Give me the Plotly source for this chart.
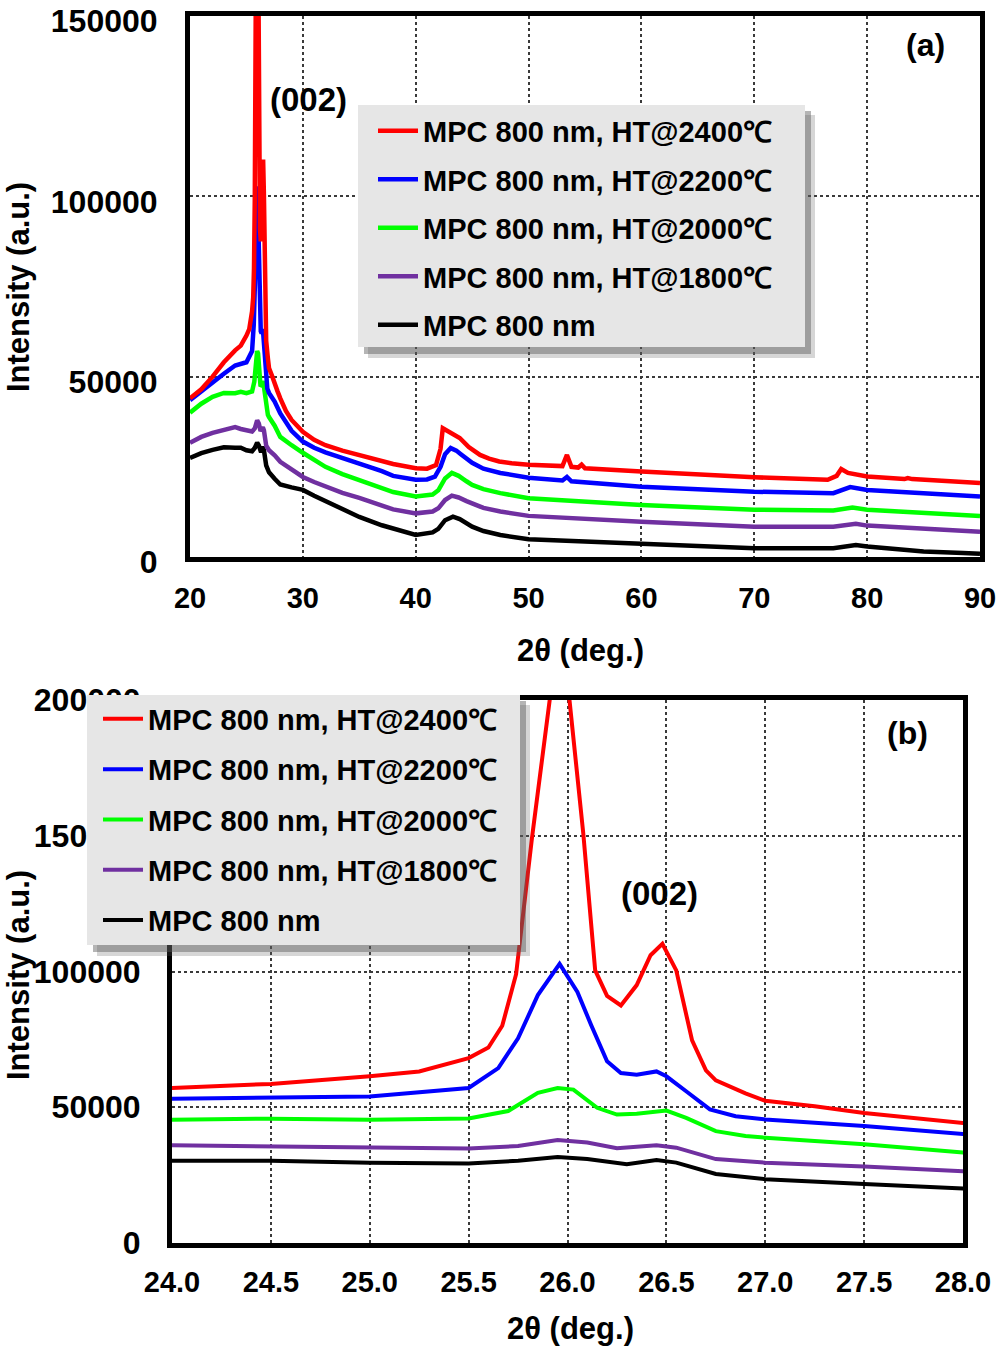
import plotly.graph_objects as go

# ---------------- data ----------------
x_red = [20, 21, 22, 23, 24.0, 24.5, 25.0, 25.25, 25.5, 25.6, 25.67, 25.74, 25.82, 25.91, 25.96,
         26.01, 26.08, 26.14, 26.2, 26.27, 26.35, 26.42, 26.48, 26.55, 26.63, 26.7, 26.75, 26.9,
         27.0, 27.25, 27.5, 27.75, 28.0, 28.5, 29, 29.5, 30, 31, 32, 33.5, 35, 38, 40, 41, 41.8,
         42.2, 42.4, 42.8, 43.3, 43.9, 44.7, 45.7, 46.5, 47.4, 48.5, 50, 53.0, 53.4, 53.8, 54.4,
         54.7, 55.0, 60, 70, 76.5, 77.3, 77.7, 78.3, 80, 83.3, 83.6, 84, 90]
y_red = [44000, 46500, 50000, 54000, 57300, 58600, 61400, 63200, 68100, 72000, 80000, 99000,
         149000, 200000, 250000, 200000, 150700, 100400, 91000, 87500, 95000, 106000, 110200,
         100400, 74600, 63600, 59900, 55100, 52400, 50400, 47900, 46000, 44000, 40500, 38000,
         36200, 34700, 32500, 31000, 29500, 28300, 25800, 24600, 24500, 25500, 30000, 35700,
         35000, 34200, 33000, 30500, 28300, 27300, 26500, 26000, 25600, 25200, 28300, 25000,
         24800, 25600, 24600, 23700, 22100, 21400, 22500, 24400, 23300, 22300, 21600, 21900,
         21600, 20500]

x_blue = [20, 21, 22, 23, 24.0, 24.5, 25.0, 25.5, 25.65, 25.75, 25.85, 25.96, 26.05, 26.12, 26.2,
          26.27, 26.35, 26.45, 26.5, 26.6, 26.72, 26.85, 27.0, 27.5, 28.0, 28.5, 29, 30, 31, 32,
          33.5, 35, 37, 38, 40, 41, 41.7, 42.2, 42.6, 43.1, 43.6, 44, 45, 46, 47.5, 50, 53.0,
          53.4, 53.8, 60, 70, 77, 78.5, 80, 90]
y_blue = [43500, 46000, 48600, 50800, 53100, 53400, 54000, 57100, 64400, 75400, 91300, 102800,
          92500, 80200, 66900, 62600, 62000, 63200, 61400, 55900, 49200, 46700, 45500, 43100,
          39800, 37200, 35000, 32000, 30300, 29000, 27500, 26100, 23800, 22500, 21400, 21500,
          22300, 25000, 28500, 30200, 29500, 28500, 26100, 24500, 23300, 22000, 21200, 22200,
          21000, 19500, 18100, 17700, 19400, 18600, 16800]

x_green = [20, 21, 22, 23, 24.0, 24.5, 25.0, 25.5, 25.7, 25.85, 25.95, 26.03, 26.15, 26.25, 26.35,
           26.5, 26.6, 26.75, 26.9, 27.0, 27.5, 28.0, 28.5, 29, 30, 31, 32, 33.5, 35, 37, 38, 40,
           41.5, 42, 42.6, 43.2, 43.8, 44.5, 45, 46, 47.5, 50, 60, 70, 77, 78.7, 80, 90]
y_green = [40000, 42500, 44400, 45500, 45400, 45800, 45400, 45900, 48600, 55300, 57100, 56500,
           49800, 47300, 47600, 48800, 46100, 41200, 39400, 38800, 36400, 33300, 32000, 31000,
           28900, 26800, 25000, 23000, 21400, 19000, 18000, 16800, 17300, 18500, 21800, 23300,
           22500, 21000, 20000, 18800, 17700, 16300, 14400, 13100, 12900, 13700, 13100, 11400]

x_purple = [20, 21, 22, 23, 24.0, 24.5, 25.0, 25.5, 25.75, 25.95, 26.1, 26.25, 26.45, 26.55, 26.75,
            27.0, 27.5, 28.0, 29, 30, 31, 32, 33.5, 35, 37, 38, 40, 41.5, 42, 42.6, 43.2, 43.8,
            44.5, 45, 46, 47.5, 50, 60, 70, 77, 79, 80, 90]
y_purple = [31700, 33300, 34400, 35300, 36000, 35500, 35100, 34800, 35700, 37900, 37000, 34900,
            36000, 35100, 30900, 29600, 28200, 26400, 24300, 22200, 20800, 19500, 17800, 16400,
            14200, 13200, 12100, 12600, 13500, 15800, 17000, 16500, 15500, 14900, 13600, 12600,
            11400, 9800, 8400, 8400, 9200, 8700, 7000]

x_black = [20, 21, 22, 23, 24.0, 24.5, 25.0, 25.5, 25.75, 25.95, 26.1, 26.3, 26.45, 26.55, 26.75,
           27.0, 27.5, 28.0, 29, 30, 31, 32, 33.5, 35, 37, 38, 39, 40, 41.5, 42, 42.6, 43.3, 43.9,
           44.5, 45, 46, 47.5, 50, 60, 70, 77, 79, 80, 85, 88.5, 90]
y_black = [27500, 28800, 29700, 30400, 30300, 30300, 29600, 29300, 30300, 31700, 30900, 29000,
           30600, 29600, 25400, 23500, 21700, 20100, 19300, 18600, 17000, 15500, 13200, 11100,
           8800, 7800, 6800, 6100, 6800, 7800, 10200, 11200, 10500, 9300, 8400, 7200, 6100, 4900,
           3800, 2400, 2400, 3300, 2900, 1500, 1100, 900]

names = ["MPC 800 nm", "MPC 800 nm, HT@1800℃", "MPC 800 nm, HT@2000℃",
         "MPC 800 nm, HT@2200℃", "MPC 800 nm, HT@2400℃"]
colors = ["#000000", "#7030a0", "#00ff00", "#0000ff", "#ff0000"]
xs_all = [x_black, x_purple, x_green, x_blue, x_red]
ys_all = [y_black, y_purple, y_green, y_blue, y_red]

x_ticks_a = [20, 30, 40, 50, 60, 70, 80, 90]
y_ticks_a = [0, 50000, 100000, 150000]
x_ticks_b = [24.0, 24.5, 25.0, 25.5, 26.0, 26.5, 27.0, 27.5, 28.0]
y_ticks_b = [0, 50000, 100000, 150000, 200000]

# ---------------- figure ----------------
W, H = 997, 1351
FONT = "Liberation Sans, Arial, Helvetica, sans-serif"


def px(x):
    return x / W


def py(y):
    return 1 - y / H


fig = go.Figure()
for i, (nm, xs, ys, c) in enumerate(zip(names, xs_all, ys_all, colors)):
    fig.add_trace(go.Scatter(x=xs, y=ys, name=nm, mode="lines",
                             line=dict(color=c, width=4.5),
                             xaxis="x", yaxis="y", legend="legend",
                             legendgroup=f"a{i}", legendrank=10 - i))
for i, (nm, xs, ys, c) in enumerate(zip(names, xs_all, ys_all, colors)):
    fig.add_trace(go.Scatter(x=xs, y=ys, name=nm, mode="lines",
                             line=dict(color=c, width=4),
                             xaxis="x2", yaxis="y2", legend="legend2",
                             legendgroup=f"b{i}", legendrank=10 - i))

tick_font_y = dict(family=FONT, size=32, color="black", weight="bold")
tick_font_x = dict(family=FONT, size=29, color="black", weight="bold")
common = dict(showline=True, linecolor="black", linewidth=5, mirror=True,
              showgrid=True, gridcolor="#3a3a3a", griddash="dot", gridwidth=1.5,
              zeroline=False, ticks="", automargin=False, ticklabeloverflow="allow")

fig.update_layout(
    width=W, height=H, margin=dict(l=0, r=0, t=0, b=0, autoexpand=False),
    paper_bgcolor="white", plot_bgcolor="white", showlegend=True,
    xaxis=dict(common, domain=[px(190), px(980)], anchor="y", range=[20, 90],
               tickmode="array", tickvals=x_ticks_a, tickfont=tick_font_x,
               ticklabelstandoff=11),
    yaxis=dict(common, domain=[py(557), py(16)], anchor="x", range=[0, 150000],
               tickmode="array", tickvals=y_ticks_a, tickformat="d",
               tickfont=tick_font_y, ticklabelstandoff=21, ticklabelshift=5),
    xaxis2=dict(common, domain=[px(172), px(963)], anchor="y2", range=[24, 28],
                tickmode="array", tickvals=x_ticks_b, tickformat=".1f",
                tickfont=tick_font_x, ticklabelstandoff=9),
    yaxis2=dict(common, domain=[py(1243), py(700)], anchor="x2", range=[0, 200000],
                tickmode="array", tickvals=y_ticks_b, tickformat="d",
                tickfont=tick_font_y, ticklabelstandoff=20),
    legend=dict(x=px(373), y=py(105.5), xanchor="left", yanchor="top",
                bgcolor="rgba(0,0,0,0)", borderwidth=0,
                font=dict(family=FONT, size=29, color="black", weight="bold"),
                traceorder="grouped", tracegroupgap=7.8, itemwidth=40),
    legend2=dict(x=px(98), y=py(693.5), xanchor="left", yanchor="top",
                 bgcolor="rgba(0,0,0,0)", borderwidth=0,
                 font=dict(family=FONT, size=29, color="black", weight="bold"),
                 traceorder="grouped", tracegroupgap=9.6, itemwidth=40),
)

# legend backgrounds with drop shadows
shapes = []
for (x0, y0, x1, y1) in [(358, 105, 805, 347), (87, 695, 520, 945)]:
    shapes.append(dict(type="rect", xref="paper", yref="paper", layer="above",
                       x0=px(x0 + 10), x1=px(x1 + 10), y0=py(y1 + 11), y1=py(y0 + 10),
                       fillcolor="rgba(90,90,90,0.25)", line=dict(width=0)))
    shapes.append(dict(type="rect", xref="paper", yref="paper", layer="above",
                       x0=px(x0 + 6), x1=px(x1 + 6), y0=py(y1 + 7), y1=py(y0 + 6),
                       fillcolor="rgba(90,90,90,0.45)", line=dict(width=0)))
    shapes.append(dict(type="rect", xref="paper", yref="paper", layer="above",
                       x0=px(x0), x1=px(x1), y0=py(y1), y1=py(y0),
                       fillcolor="#e6e6e6", line=dict(width=0)))
fig.update_layout(shapes=shapes)

lab = dict(family=FONT, size=32, color="black", weight="bold")
ttl = dict(family=FONT, size=31, color="black", weight="bold")
annotations = [
    dict(text="(a)", x=px(925), y=py(45), font=lab),
    dict(text="(002)", x=px(308), y=py(100), font=dict(lab, size=33)),
    dict(text="(b)", x=px(907), y=py(733), font=lab),
    dict(text="(002)", x=px(659), y=py(893), font=dict(lab, size=33)),
    dict(text="2θ (deg.)", x=px(580), y=py(650), font=ttl),
    dict(text="2θ (deg.)", x=px(570), y=py(1328), font=ttl),
    dict(text="Intensity (a.u.)", x=px(19), y=py(287), font=ttl, textangle=-90),
    dict(text="Intensity (a.u.)", x=px(19), y=py(975), font=ttl, textangle=-90),
]
for a in annotations:
    a.update(xref="paper", yref="paper", showarrow=False, xanchor="center", yanchor="middle")
fig.update_layout(annotations=annotations)

fig.write_html("out.html")
